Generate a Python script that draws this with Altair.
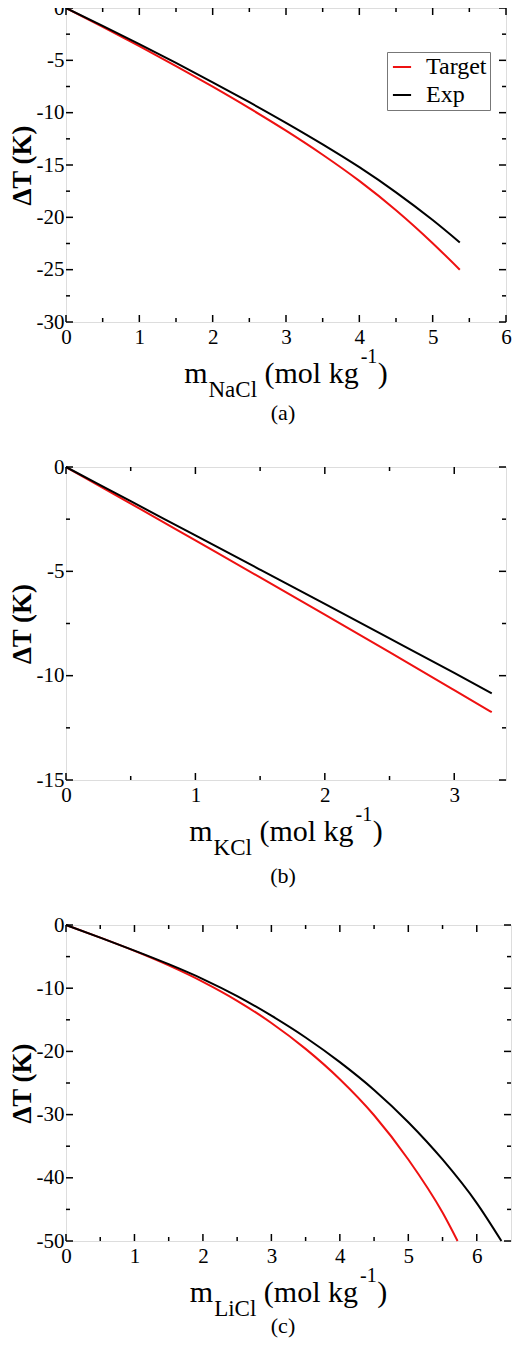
import altair as alt
import pandas as pd

FONT = "Liberation Serif, Times New Roman, serif"
RED = "#ee1111"

# ---------------- data ----------------
# (a) NaCl
nacl_m = [0, 0.5, 1, 1.5, 2, 2.5, 3, 3.5, 4, 4.5, 5, 5.37]
nacl_target = [0, -1.8, -3.65, -5.55, -7.52, -9.57, -11.72, -14.02, -16.52, -19.32, -22.47, -25.0]
nacl_exp = [0, -1.7, -3.45, -5.25, -7.1, -9.0, -10.97, -13.03, -15.21, -17.61, -20.26, -22.4]

# (b) KCl
kcl_m = [0, 0.5, 1, 1.5, 2, 2.5, 3, 3.29]
kcl_target = [0, -1.75, -3.52, -5.29, -7.07, -8.87, -10.69, -11.75]
kcl_exp = [0, -1.64, -3.28, -4.92, -6.56, -8.21, -9.87, -10.85]

# (c) LiCl
licl_target_m = [0, 0.5, 1, 1.5, 2, 2.5, 3, 3.5, 4, 4.5, 5, 5.5, 5.72]
licl_target = [0, -2.0, -4.1, -6.4, -9.0, -12.0, -15.5, -19.6, -24.4, -30.1, -37.1, -45.5, -50.0]
licl_exp_m = [0, 0.5, 1, 1.5, 2, 2.5, 3, 3.5, 4, 4.5, 5, 5.5, 6, 6.36]
licl_exp = [0, -2.0, -4.05, -6.2, -8.55, -11.25, -14.35, -17.8, -21.7, -26.1, -31.2, -37.1, -44.0, -50.0]

series_names = ["Target", "Exp"]
series_colors = [RED, "black"]

# tick values
nacl_xmaj = [0, 1, 2, 3, 4, 5, 6]
nacl_xmin = [0.5, 1.5, 2.5, 3.5, 4.5, 5.5]
nacl_ymaj = [-30, -25, -20, -15, -10, -5, 0]
nacl_ymin = [-27.5, -22.5, -17.5, -12.5, -7.5, -2.5]

kcl_xmaj = [0, 1, 2, 3]
kcl_xmin = [0.5, 1.5, 2.5]
kcl_ymaj = [-15, -10, -5, 0]
kcl_ymin = [-12.5, -7.5, -2.5]

licl_xmaj = [0, 1, 2, 3, 4, 5, 6]
licl_xmin = [0.5, 1.5, 2.5, 3.5, 4.5, 5.5]
licl_ymaj = [-50, -40, -30, -20, -10, 0]
licl_ymin = [-45, -35, -25, -15, -5]

# ---------------- helpers ----------------
TIMES_W = {'m': .778, 'N': .722, 'a': .444, 'C': .667, 'l': .278, 'K': .722,
           'L': .611, 'i': .278, '(': .333, ')': .333, 'o': .5, ' ': .25,
           'k': .5, 'g': .5, '-': .333, '1': .5}


def tw(s, size):
    return sum(TIMES_W[c] for c in s) * size


def one():
    return pd.DataFrame({'k': [0]})


def text_layer(txt, x, y, size, align='left'):
    return alt.Chart(one()).mark_text(
        text=txt, font=FONT, fontSize=size, align=align,
        baseline='alphabetic', color='black'
    ).encode(x=alt.value(x), y=alt.value(y))


def panel(target_m, target_v, exp_m, exp_v, xdom, ydom, xmaj, xmin, ymaj, ymin,
          w, h, sub, cap, cap_off, legend):
    df_t = pd.DataFrame({'m': target_m, 'dT': target_v, 'series': 'Target'})
    df_e = pd.DataFrame({'m': exp_m, 'dT': exp_v, 'series': 'Exp'})
    xs = alt.Scale(domain=xdom, nice=False, zero=False)
    ys = alt.Scale(domain=ydom, nice=False, zero=False)
    lab = dict(labelFont=FONT, labelFontSize=21, labelColor='black', ticks=False,
               domain=False, grid=False, labelFlush=False, labelOverlap=False,
               labelExpr="toString(datum.value)")
    xaxis = alt.Axis(values=xmaj, title=None, labelPadding=4, **lab)
    yaxis = alt.Axis(values=ymaj, title='ΔT (K)', titleFont=FONT, titleFontSize=27,
                     titleFontWeight='bold', titleColor='black', titlePadding=0,
                     labelPadding=2, **lab)
    if legend:
        leg = alt.Legend(orient='none', legendX=w - 119, legendY=44, title=None,
                         symbolType='stroke', symbolStrokeWidth=2, symbolSize=330,
                         labelFont=FONT, labelFontSize=24, labelColor='black',
                         fillColor='white', strokeColor='#777777', padding=3,
                         rowPadding=4, labelOffset=12)
    else:
        leg = None
    color = alt.Color('series:N', scale=alt.Scale(domain=series_names, range=series_colors),
                      legend=leg)
    X = alt.X('m:Q', scale=xs, axis=xaxis)
    Y = alt.Y('dT:Q', scale=ys, axis=yaxis)

    layers = []
    for d in (df_t, df_e):
        layers.append(alt.Chart(d).mark_line(strokeWidth=2, interpolate='monotone')
                      .encode(x=X, y=Y, color=color))

    # inward ticks on all four sides
    sty = dict(color='black', strokeWidth=1.5)
    for vals, L in ((xmaj, 7), (xmin, 4)):
        dx = pd.DataFrame({'m': vals})
        layers.append(alt.Chart(dx).mark_rule(**sty).encode(
            x=X, y=alt.value(h), y2=alt.value(h - L)))
        layers.append(alt.Chart(dx).mark_rule(**sty).encode(
            x=X, y=alt.value(0), y2=alt.value(L)))
    for vals, L in ((ymaj, 7), (ymin, 4)):
        dy = pd.DataFrame({'dT': vals})
        layers.append(alt.Chart(dy).mark_rule(**sty).encode(
            y=Y, x=alt.value(0), x2=alt.value(L)))
        layers.append(alt.Chart(dy).mark_rule(**sty).encode(
            y=Y, x=alt.value(w), x2=alt.value(w - L)))

    # x-axis title with subscript and superscript
    big, small, sup = 30, 23, 20
    total = (tw('m', big) + 1 + tw(sub, small) + 7.5 + tw('(mol kg', big) + 2
             + tw('-1', sup) + 0.5 + tw(')', big))
    x0 = w / 2 - total / 2
    layers.append(text_layer('m', x0, h + 61, big))
    x1 = x0 + tw('m', big) + 1
    layers.append(text_layer(sub, x1, h + 75, small))
    x2 = x1 + tw(sub, small) + 7.5
    layers.append(text_layer('(mol kg', x2, h + 61, big))
    x3 = x2 + tw('(mol kg', big) + 2
    layers.append(text_layer('-1', x3, h + 41, sup))
    x4 = x3 + tw('-1', sup) + 0.5
    layers.append(text_layer(')', x4, h + 61, big))

    # caption
    layers.append(text_layer(cap, 217, h + cap_off, 22, align='center'))

    return alt.layer(*layers).properties(width=w, height=h)


pa = panel(nacl_m, nacl_target, nacl_m, nacl_exp, [0, 6], [-30, 0],
           nacl_xmaj, nacl_xmin, nacl_ymaj, nacl_ymin, 440, 314, 'NaCl', '(a)', 98, True)
pb = panel(kcl_m, kcl_target, kcl_m, kcl_exp, [0, 3.4], [-15, 0],
           kcl_xmaj, kcl_xmin, kcl_ymaj, kcl_ymin, 440, 313, 'KCl', '(b)', 103, False)
pc = panel(licl_target_m, licl_target, licl_exp_m, licl_exp, [0, 6.5], [-50, 0],
           licl_xmaj, licl_xmin, licl_ymaj, licl_ymin, 445, 316, 'LiCl', '(c)', 92, False)

chart = alt.vconcat(pa, pb, pc, spacing=145, bounds='flush').resolve_scale(
    color='independent', x='independent', y='independent'
).resolve_legend(color='independent').properties(
    autosize=alt.AutoSizeParams(type='none'),
    padding={'top': 0, 'left': 58, 'right': 446, 'bottom': 1332}
).configure_view(stroke='black', strokeWidth=1.5).configure(font=FONT)

chart.save("out.html", embed_options={"renderer": "svg", "actions": False})
